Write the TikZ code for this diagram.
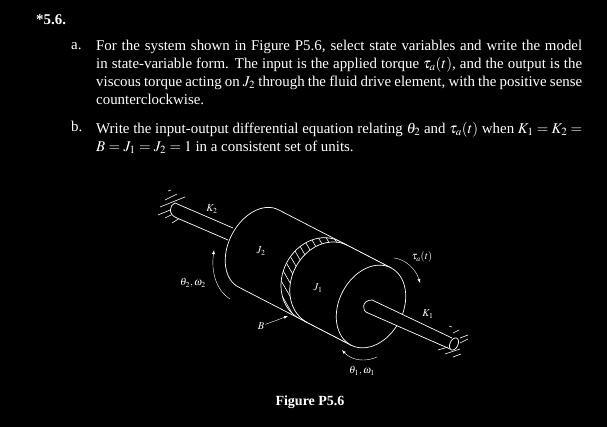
\documentclass[tikz,border=0pt]{standalone}
\usepackage{mathptmx}
\usepackage{fontspec}
\setmainfont{Liberation Serif}
\tikzstyle{para}=[anchor=north west, inner sep=0pt, white, align=justify, text width=486pt, font=\fontsize{14.9pt}{17.9pt}\selectfont]
\tikzstyle{item}=[anchor=base west, inner sep=0pt, white, font=\fontsize{14.9pt}{17.9pt}\selectfont]
\tikzstyle{part}=[inner sep=1pt, white, font=\fontsize{10.5pt}{11pt}\selectfont]
\tikzstyle{body}=[white, fill=black, line width=.7pt]
\tikzstyle{wall}=[white, line width=.6pt]
\begin{document}
\begin{tikzpicture}[>=latex,x=1pt,y=1pt]
    \fill[black] (0,0) rectangle (607,427);

    % Text
    \node[item,font=\fontsize{14.9pt}{17.9pt}\selectfont\bfseries] (num) at (36,402) {*5.6.};
    \node[item] (ia) at (71,377) {a.};
    \node[para] (pa) at (96,387) {For the system shown in Figure P5.6, select state variables and write the model\linebreak in state-variable form. The input is the applied torque $\tau_a(t)$, and the output is the\linebreak viscous torque acting on $J_2$ through the fluid drive element, with the positive sense\linebreak counterclockwise.};
    \node[item] (ib) at (71,295) {b.};
    \node[para] (pb) at (96,305) {Write the input-output differential equation relating $\theta_2$ and $\tau_a(t)$ when $K_1=K_2=$\linebreak $B=J_1=J_2=1$ in a consistent set of units.};

    % Left shaft and wall
    \draw[wall] (168,236) -- (171,237);
    \draw[wall] (165,227) -- (177,233);
    \draw[wall] (160,220) -- (185,230);
    \draw[wall] (158,212) -- (170,217);
    \draw[wall] (165,209) -- (173,213);
    \draw[wall] (172,204) -- (180,209);
    \draw[body] (233,199) -- (175,224) .. controls (169,222) and (168,212) .. (177,209) -- (228,187);

    % Cylinders
    \begin{scope}[shift={(371,120.5)},rotate=-27.3]
        \draw[body] (-126.6,43.5) arc[start angle=90,end angle=270,x radius=30,y radius=43.5] -- (0,-43.5) -- (0,43.5) -- cycle;
        \draw[body] (-58,43.5) arc[start angle=90,end angle=270,x radius=37,y radius=43.5] -- (0,-43.5) -- (0,43.5) -- cycle;
        \begin{scope}
            \clip (-58,43.5) arc[start angle=90,end angle=270,x radius=37,y radius=43.5] -- (-49,-43.5) arc[start angle=270,end angle=90,x radius=36,y radius=43.5] -- cycle;
            \foreach \i in {-11,...,11}
                \draw[wall] (-58,\i*8) ++(147.3:60) -- +(-32.7:120);
        \end{scope}
        \draw[body,fill=none] (-49,43.5) arc[start angle=90,end angle=270,x radius=36,y radius=43.5];
        \draw[body] (0,0) ellipse [x radius=32,y radius=43.5];
    \end{scope}

    % Right shaft and wall
    \draw[body] (452,89) -- (372,127) .. controls (362,127) and (361,116) .. (368,114) -- (450,78);
    \draw[body,rotate around={-25:(454,83)}] (454,83) ellipse [x radius=4,y radius=6.5];
    \draw[wall] (449,101) -- (452,100);
    \draw[wall] (453,94) -- (459,97);
    \draw[wall] (460,89) -- (468,92);
    \draw[wall] (460,84) -- (468,88);
    \draw[wall] (438,77) -- (448,80);
    \draw[wall] (445,73) -- (460,78);
    \draw[wall] (453,70) -- (461,73);

    % Labels
    \node[part] (ktwo) at (212,218) {$K_2$};
    \node[part] (jtwo) at (261,176) {$J_2$};
    \node[part] (thetatwo) at (193,144) {$\theta_2,\omega_2$};
    \node[part] (bb) at (261,101) {$B$};
    \node[part] (jone) at (318,139) {$J_1$};
    \node[part] (tau) at (422,170) {$\tau_a(t)$};
    \node[part] (kone) at (428,113) {$K_1$};
    \node[part] (thetaone) at (362,56) {$\theta_1,\omega_1$};
    \node[item,anchor=center,font=\fontsize{14pt}{16pt}\selectfont\bfseries] (cap) at (310,25) {Figure P5.6};

    % Arrows
    \coordinate (bend) at (288,111);
    \draw[->,white,line width=.4pt] (bb) -- (bend);
    \coordinate (wtwostart) at (230,128);
    \coordinate (wtwoend) at (214,177);
    \draw[->,white,line width=.4pt] (wtwostart) .. controls (216,137) and (211,155) .. (wtwoend);
    \coordinate (tstart) at (394,169);
    \coordinate (tend) at (420,144);
    \draw[->,white,line width=.4pt] (tstart) .. controls (405,168) and (416,158) .. (tend);
    \coordinate (wonestart) at (377,70);
    \coordinate (woneend) at (342,77);
    \draw[->,white,line width=.4pt] (wonestart) .. controls (366,65) and (352,66) .. (woneend);
\end{tikzpicture}
\end{document}
